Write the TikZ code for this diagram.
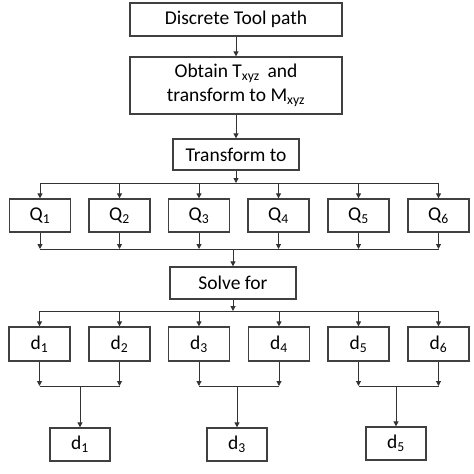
\documentclass[tikz,border=0pt]{standalone}
\usepackage{fontspec}
\setmainfont{Carlito}
\usetikzlibrary{arrows.meta,calc}
\begin{document}
\begin{tikzpicture}[x=1pt,y=-1pt,
  box/.style={draw=black!75, line width=1.3pt, inner sep=0pt, font=\fontsize{19.5}{24}\selectfont},
  qbox/.style={box, minimum width=61pt, minimum height=33pt},
  dbox/.style={box, minimum width=61pt, minimum height=34pt},
  conn/.style={draw=black!80, line width=1pt},
  arr/.style={conn, -{Triangle[length=5pt,width=5pt]}}]
\useasboundingbox (0,0) rectangle (474,474);
\node[box, minimum width=212pt, minimum height=33pt] (tool) at (236,19.5) {Discrete Tool path};
\node[box, minimum width=212pt, minimum height=57pt, align=center] (obt) at (236,85.5) {Obtain T\textsubscript{xyz}\, and\\transform to M\textsubscript{xyz}};
\node[box, minimum width=126pt, minimum height=31pt] (tr) at (236,154.5) {Transform to};
\foreach \i/\x in {1/40,2/119.5,3/199,4/278.5,5/358.5,6/438.5}
  \node[qbox] (q\i) at (\x,215.5) {Q\textsubscript{\i}};
\node[box, minimum width=126pt, minimum height=32pt] (solve) at (233,283) {Solve for};
\foreach \i/\x in {1/39.5,2/119.5,3/199,4/279,5/358.5,6/438.5}
  \node[dbox] (d\i) at (\x,344) {d\textsubscript{\i}};
\node[box, minimum width=60pt, minimum height=33pt] (f1) at (80,444.5) {d\textsubscript{1}};
\node[box, minimum width=60pt, minimum height=33pt] (f3) at (237,444.5) {d\textsubscript{3}};
\node[box, minimum width=60pt, minimum height=33pt] (f5) at (396,443.5) {d\textsubscript{5}};
\coordinate (b1) at (0,183);
\coordinate (b2) at (0,249);
\coordinate (b3) at (0,311);
\coordinate (b4) at (0,386);
\draw[arr] (tool) -- (obt);
\draw[arr] (obt) -- (tr);
\draw[arr] (tr.south) -- (tr.south |- b1);
\draw[conn] (q1.north |- b1) -- (q6.north |- b1);
\foreach \i in {1,...,6} {
  \draw[arr] (q\i.north |- b1) -- (q\i.north);
  \draw[arr] (q\i.south) -- (q\i.south |- b2);
}
\draw[conn] (q1.south |- b2) -- (q6.south |- b2);
\draw[arr] (solve.north |- b2) -- (solve.north);
\draw[arr] (solve.south) -- (solve.south |- b3);
\draw[conn] (d1.north |- b3) -- (d6.north |- b3);
\foreach \i in {1,...,6} {
  \draw[arr] (d\i.north |- b3) -- (d\i.north);
  \draw[arr] (d\i.south) -- (d\i.south |- b4);
}
\draw[conn] (d1.south |- b4) -- (d2.south |- b4);
\draw[conn] (d3.south |- b4) -- (d4.south |- b4);
\draw[conn] (d5.south |- b4) -- (d6.south |- b4);
\draw[arr] (f1.north |- b4) -- (f1.north);
\draw[arr] (f3.north |- b4) -- (f3.north);
\draw[arr] (f5.north |- b4) -- (f5.north);
\end{tikzpicture}
\end{document}
